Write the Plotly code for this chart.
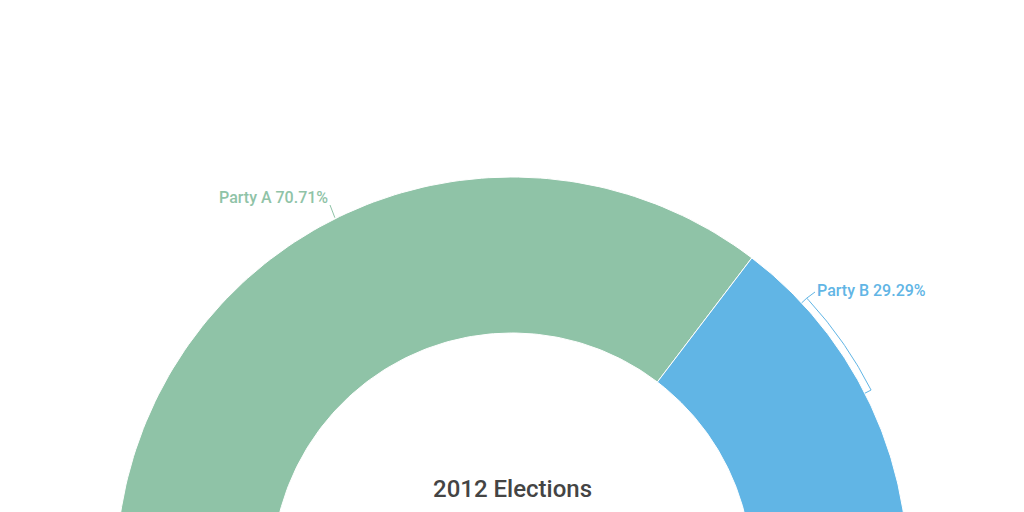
import numpy as np
import plotly.graph_objects as go

parties = ["Party A", "Party B"]
shares = [70.71, 29.29]
colors = ["#8FC3A7", "#61B5E5"]
title = "2012 Elections"

W, H = 1024, 512
cx, cy, R, r = 512, 573, 396, 240
off = 8  # page body margin

def pt(rad, ang):  # ang: degrees from vertical, clockwise
    a = np.radians(ang)
    return cx + rad*np.sin(a), cy - rad*np.cos(a)

fig = go.Figure()
start = -90.0
total = sum(shares)
for name, v, c in zip(parties, shares, colors):
    end = start + 180*v/total
    t = np.linspace(start, end, 120)
    xo, yo = pt(R, t); xi, yi = pt(r, t[::-1])
    fig.add_trace(go.Scatter(x=np.r_[xo, xi, xo[0]], y=np.r_[yo, yi, yo[0]], fill="toself",
                             fillcolor=c, mode="lines", line=dict(color="white", width=1),
                             hoverinfo="skip", showlegend=False))
    if name == "Party A":
        x0, y0 = pt(R+1, -26.5); x1, y1 = 330, 205
        fig.add_trace(go.Scatter(x=[x0, x1], y=[y0, y1], mode="lines",
                                 line=dict(color=c, width=1), hoverinfo="skip", showlegend=False))
        fig.add_annotation(x=x1, y=197, text=f"{name} {v:.2f}%", xanchor="right", showarrow=False,
                           font=dict(color=c, size=16, family="Roboto", weight=500))
    else:
        tt = np.linspace(47, 63, 40)
        ax_, ay_ = pt(403, tt)
        x0, y0 = pt(R, 47); x1, y1 = pt(R, 63)
        fig.add_trace(go.Scatter(x=np.r_[x0, ax_, x1], y=np.r_[y0, ay_, y1], mode="lines",
                                 line=dict(color=c, width=1), hoverinfo="skip", showlegend=False))
        fig.add_trace(go.Scatter(x=[ax_[0], 815], y=[ay_[0], 292], mode="lines",
                                 line=dict(color=c, width=1), hoverinfo="skip", showlegend=False))
        fig.add_annotation(x=815, y=290, text=f"{name} {v:.2f}%", xanchor="left", showarrow=False,
                           font=dict(color=c, size=16, family="Roboto", weight=500))
    start = end

fig.add_annotation(x=512, y=489, text=title, showarrow=False,
                   font=dict(color="#444444", size=24, family="Roboto", weight=500))
fig.update_layout(width=W, height=H, margin=dict(l=0, r=0, t=0, b=0),
                  plot_bgcolor="white", paper_bgcolor="white",
                  xaxis=dict(range=[off, W+off], visible=False, fixedrange=True),
                  yaxis=dict(range=[H+off, off], visible=False, fixedrange=True))
fig.write_html("out.html")
